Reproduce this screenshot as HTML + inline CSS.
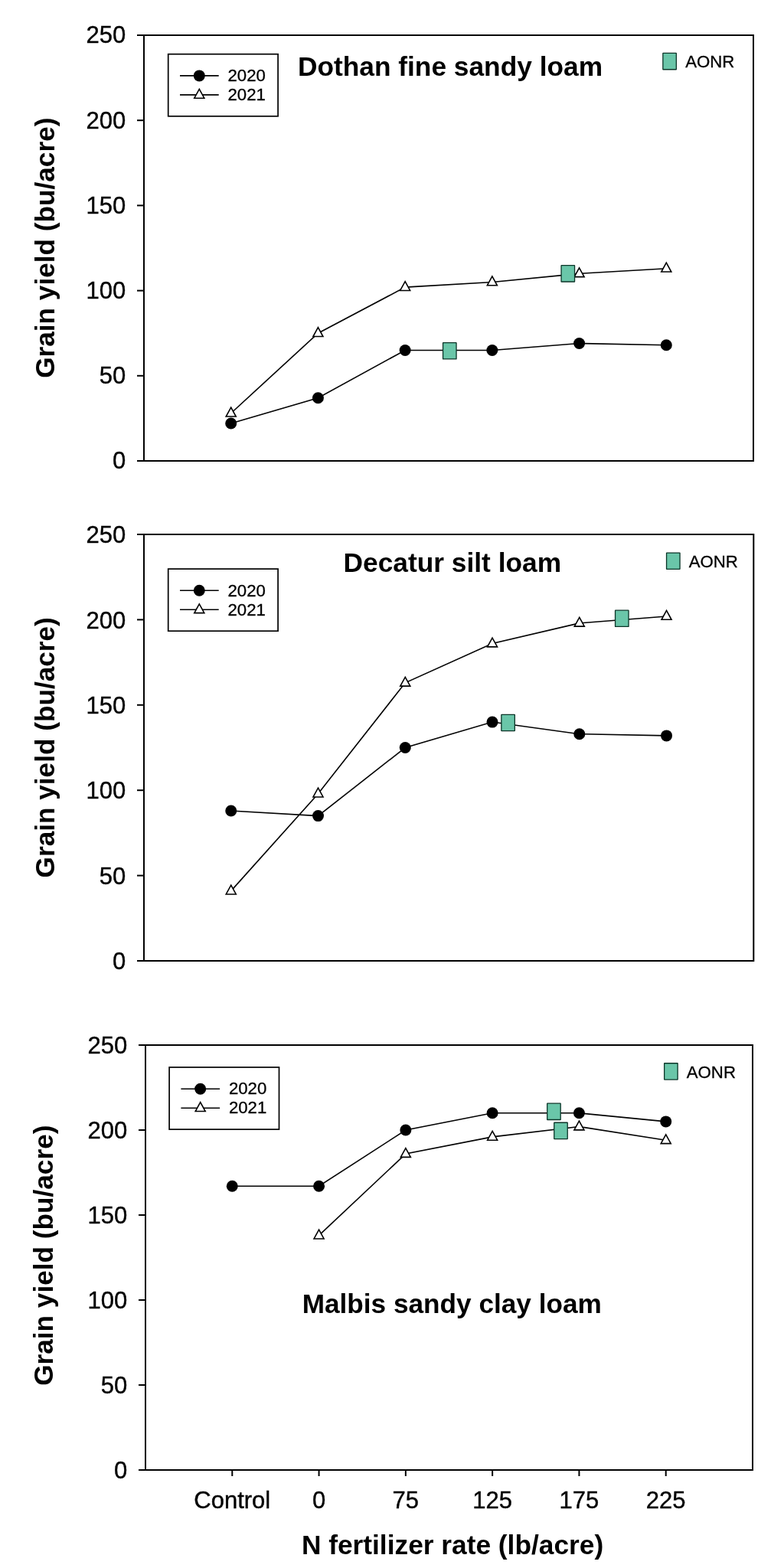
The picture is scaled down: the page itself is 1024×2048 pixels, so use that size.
<!DOCTYPE html>
<html lang="en"><head><meta charset="utf-8"><title>Grain yield vs N fertilizer rate</title>
<style>html,body{margin:0;padding:0;background:#fff}body{width:1024px;height:2048px;overflow:hidden}svg{display:block}text{font-family:"Liberation Sans", sans-serif;fill:#000}.tk{font-size:31px;stroke:#000;stroke-width:.4px}.lg{font-size:22.2px;stroke:#000;stroke-width:.3px}.ti{font-size:35.3px;font-weight:bold}</style>
</head><body>
<svg width="1024" height="2048" viewBox="0 0 1024 2048">
<rect width="1024" height="2048" fill="#fff"/>
<g>
<rect x="188.00" y="46.00" width="796.00" height="556.00" fill="none" stroke="#000" stroke-width="2"/>
<line x1="179.00" y1="46.00" x2="188.00" y2="46.00" stroke="#000" stroke-width="2"/>
<text class="tk" x="164.20" y="56.40" text-anchor="end">250</text>
<line x1="179.00" y1="157.20" x2="188.00" y2="157.20" stroke="#000" stroke-width="2"/>
<text class="tk" x="164.20" y="167.60" text-anchor="end">200</text>
<line x1="179.00" y1="268.40" x2="188.00" y2="268.40" stroke="#000" stroke-width="2"/>
<text class="tk" x="164.20" y="278.80" text-anchor="end">150</text>
<line x1="179.00" y1="379.60" x2="188.00" y2="379.60" stroke="#000" stroke-width="2"/>
<text class="tk" x="164.20" y="390.00" text-anchor="end">100</text>
<line x1="179.00" y1="490.80" x2="188.00" y2="490.80" stroke="#000" stroke-width="2"/>
<text class="tk" x="164.20" y="501.20" text-anchor="end">50</text>
<line x1="179.00" y1="602.00" x2="188.00" y2="602.00" stroke="#000" stroke-width="2"/>
<text class="tk" x="164.20" y="612.40" text-anchor="end">0</text>
<text class="ti" style="font-size:35.2px" transform="translate(70.80 323.70) rotate(-90)" text-anchor="middle">Grain yield (bu/acre)</text>
<polyline points="301.71,553.07 415.43,519.71 529.14,457.44 642.86,457.44 756.57,448.54 870.29,450.77" fill="none" stroke="#000" stroke-width="1.6"/>
<polyline points="301.71,539.73 415.43,435.20 529.14,375.15 642.86,368.48 756.57,357.36 870.29,350.69" fill="none" stroke="#000" stroke-width="1.6"/>
<circle cx="301.71" cy="553.07" r="7.50" fill="#000"/>
<circle cx="415.43" cy="519.71" r="7.50" fill="#000"/>
<circle cx="529.14" cy="457.44" r="7.50" fill="#000"/>
<circle cx="642.86" cy="457.44" r="7.50" fill="#000"/>
<circle cx="756.57" cy="448.54" r="7.50" fill="#000"/>
<circle cx="870.29" cy="450.77" r="7.50" fill="#000"/>
<path d="M301.71 532.23L308.21 544.03L295.21 544.03Z" fill="#fff" stroke="#000" stroke-width="1.6" stroke-linejoin="miter"/>
<path d="M415.43 427.70L421.93 439.50L408.93 439.50Z" fill="#fff" stroke="#000" stroke-width="1.6" stroke-linejoin="miter"/>
<path d="M529.14 367.65L535.64 379.45L522.64 379.45Z" fill="#fff" stroke="#000" stroke-width="1.6" stroke-linejoin="miter"/>
<path d="M642.86 360.98L649.36 372.78L636.36 372.78Z" fill="#fff" stroke="#000" stroke-width="1.6" stroke-linejoin="miter"/>
<path d="M756.57 349.86L763.07 361.66L750.07 361.66Z" fill="#fff" stroke="#000" stroke-width="1.6" stroke-linejoin="miter"/>
<path d="M870.29 343.19L876.79 354.99L863.79 354.99Z" fill="#fff" stroke="#000" stroke-width="1.6" stroke-linejoin="miter"/>
<rect x="578.55" y="447.65" width="17.50" height="21.30" fill="#6ac6a9" stroke="#0c3528" stroke-width="1.3" rx="0.3"/>
<rect x="733.05" y="346.70" width="17.50" height="21.30" fill="#6ac6a9" stroke="#0c3528" stroke-width="1.3" rx="0.3"/>
<rect x="219.70" y="70.70" width="143.4" height="81.1" fill="#fff" stroke="#000" stroke-width="1.7"/>
<line x1="235.00" y1="98.90" x2="285.70" y2="98.90" stroke="#000" stroke-width="1.6"/>
<line x1="235.00" y1="123.90" x2="285.70" y2="123.90" stroke="#000" stroke-width="1.6"/>
<circle cx="260.30" cy="98.90" r="7.50" fill="#000"/>
<path d="M260.30 116.40L266.80 128.20L253.80 128.20Z" fill="#fff" stroke="#000" stroke-width="1.6" stroke-linejoin="miter"/>
<text class="lg" x="297.50" y="106.10">2020</text>
<text class="lg" x="297.50" y="131.10">2021</text>
<rect x="865.85" y="69.45" width="17.50" height="21.30" fill="#6ac6a9" stroke="#0c3528" stroke-width="1.3" rx="0.3"/>
<text class="lg" x="895.20" y="88.20">AONR</text>
<text class="ti" x="388.90" y="98.60">Dothan fine sandy loam</text>
</g>
<g>
<rect x="188.00" y="698.00" width="796.30" height="557.00" fill="none" stroke="#000" stroke-width="2"/>
<line x1="179.00" y1="698.00" x2="188.00" y2="698.00" stroke="#000" stroke-width="2"/>
<text class="tk" x="164.20" y="709.20" text-anchor="end">250</text>
<line x1="179.00" y1="809.40" x2="188.00" y2="809.40" stroke="#000" stroke-width="2"/>
<text class="tk" x="164.20" y="820.60" text-anchor="end">200</text>
<line x1="179.00" y1="920.80" x2="188.00" y2="920.80" stroke="#000" stroke-width="2"/>
<text class="tk" x="164.20" y="932.00" text-anchor="end">150</text>
<line x1="179.00" y1="1032.20" x2="188.00" y2="1032.20" stroke="#000" stroke-width="2"/>
<text class="tk" x="164.20" y="1043.40" text-anchor="end">100</text>
<line x1="179.00" y1="1143.60" x2="188.00" y2="1143.60" stroke="#000" stroke-width="2"/>
<text class="tk" x="164.20" y="1154.80" text-anchor="end">50</text>
<line x1="179.00" y1="1255.00" x2="188.00" y2="1255.00" stroke="#000" stroke-width="2"/>
<text class="tk" x="164.20" y="1266.20" text-anchor="end">0</text>
<text class="ti" style="font-size:35.2px" transform="translate(70.80 976.30) rotate(-90)" text-anchor="middle">Grain yield (bu/acre)</text>
<polyline points="301.76,1058.94 415.51,1065.62 529.27,976.50 643.03,943.08 756.79,958.68 870.54,960.90" fill="none" stroke="#000" stroke-width="1.6"/>
<polyline points="301.76,1163.65 415.51,1036.66 529.27,891.84 643.03,840.59 756.79,813.86 870.54,804.94" fill="none" stroke="#000" stroke-width="1.6"/>
<circle cx="301.76" cy="1058.94" r="7.50" fill="#000"/>
<circle cx="415.51" cy="1065.62" r="7.50" fill="#000"/>
<circle cx="529.27" cy="976.50" r="7.50" fill="#000"/>
<circle cx="643.03" cy="943.08" r="7.50" fill="#000"/>
<circle cx="756.79" cy="958.68" r="7.50" fill="#000"/>
<circle cx="870.54" cy="960.90" r="7.50" fill="#000"/>
<path d="M301.76 1156.15L308.26 1167.95L295.26 1167.95Z" fill="#fff" stroke="#000" stroke-width="1.6" stroke-linejoin="miter"/>
<path d="M415.51 1029.16L422.01 1040.96L409.01 1040.96Z" fill="#fff" stroke="#000" stroke-width="1.6" stroke-linejoin="miter"/>
<path d="M529.27 884.34L535.77 896.14L522.77 896.14Z" fill="#fff" stroke="#000" stroke-width="1.6" stroke-linejoin="miter"/>
<path d="M643.03 833.09L649.53 844.89L636.53 844.89Z" fill="#fff" stroke="#000" stroke-width="1.6" stroke-linejoin="miter"/>
<path d="M756.79 806.36L763.29 818.16L750.29 818.16Z" fill="#fff" stroke="#000" stroke-width="1.6" stroke-linejoin="miter"/>
<path d="M870.54 797.44L877.04 809.24L864.04 809.24Z" fill="#fff" stroke="#000" stroke-width="1.6" stroke-linejoin="miter"/>
<rect x="654.85" y="933.35" width="17.50" height="21.30" fill="#6ac6a9" stroke="#0c3528" stroke-width="1.3" rx="0.3"/>
<rect x="803.55" y="797.15" width="17.50" height="21.30" fill="#6ac6a9" stroke="#0c3528" stroke-width="1.3" rx="0.3"/>
<rect x="219.70" y="743.10" width="143.4" height="81.1" fill="#fff" stroke="#000" stroke-width="1.7"/>
<line x1="235.00" y1="771.30" x2="285.70" y2="771.30" stroke="#000" stroke-width="1.6"/>
<line x1="235.00" y1="796.30" x2="285.70" y2="796.30" stroke="#000" stroke-width="1.6"/>
<circle cx="260.30" cy="771.30" r="7.50" fill="#000"/>
<path d="M260.30 788.80L266.80 800.60L253.80 800.60Z" fill="#fff" stroke="#000" stroke-width="1.6" stroke-linejoin="miter"/>
<text class="lg" x="297.50" y="778.50">2020</text>
<text class="lg" x="297.50" y="803.50">2021</text>
<rect x="870.55" y="722.05" width="17.50" height="21.30" fill="#6ac6a9" stroke="#0c3528" stroke-width="1.3" rx="0.3"/>
<text class="lg" x="899.70" y="740.50">AONR</text>
<text class="ti" x="448.60" y="746.90">Decatur silt loam</text>
</g>
<g>
<rect x="190.00" y="1365.00" width="793.00" height="555.00" fill="none" stroke="#000" stroke-width="2"/>
<line x1="181.00" y1="1365.00" x2="190.00" y2="1365.00" stroke="#000" stroke-width="2"/>
<text class="tk" x="166.20" y="1375.90" text-anchor="end">250</text>
<line x1="181.00" y1="1476.00" x2="190.00" y2="1476.00" stroke="#000" stroke-width="2"/>
<text class="tk" x="166.20" y="1486.90" text-anchor="end">200</text>
<line x1="181.00" y1="1587.00" x2="190.00" y2="1587.00" stroke="#000" stroke-width="2"/>
<text class="tk" x="166.20" y="1597.90" text-anchor="end">150</text>
<line x1="181.00" y1="1698.00" x2="190.00" y2="1698.00" stroke="#000" stroke-width="2"/>
<text class="tk" x="166.20" y="1708.90" text-anchor="end">100</text>
<line x1="181.00" y1="1809.00" x2="190.00" y2="1809.00" stroke="#000" stroke-width="2"/>
<text class="tk" x="166.20" y="1819.90" text-anchor="end">50</text>
<line x1="181.00" y1="1920.00" x2="190.00" y2="1920.00" stroke="#000" stroke-width="2"/>
<text class="tk" x="166.20" y="1930.90" text-anchor="end">0</text>
<line x1="303.29" y1="1920.00" x2="303.29" y2="1928.00" stroke="#000" stroke-width="2"/>
<line x1="416.57" y1="1920.00" x2="416.57" y2="1928.00" stroke="#000" stroke-width="2"/>
<line x1="529.86" y1="1920.00" x2="529.86" y2="1928.00" stroke="#000" stroke-width="2"/>
<line x1="643.14" y1="1920.00" x2="643.14" y2="1928.00" stroke="#000" stroke-width="2"/>
<line x1="756.43" y1="1920.00" x2="756.43" y2="1928.00" stroke="#000" stroke-width="2"/>
<line x1="869.71" y1="1920.00" x2="869.71" y2="1928.00" stroke="#000" stroke-width="2"/>
<text class="tk" x="303.29" y="1970.20" text-anchor="middle">Control</text>
<text class="tk" x="416.57" y="1970.20" text-anchor="middle">0</text>
<text class="tk" x="529.86" y="1970.20" text-anchor="middle">75</text>
<text class="tk" x="643.14" y="1970.20" text-anchor="middle">125</text>
<text class="tk" x="756.43" y="1970.20" text-anchor="middle">175</text>
<text class="tk" x="869.71" y="1970.20" text-anchor="middle">225</text>
<text class="ti" style="font-size:35.2px" transform="translate(68.80 1639.70) rotate(-90)" text-anchor="middle">Grain yield (bu/acre)</text>
<polyline points="303.29,1549.26 416.57,1549.26 529.86,1476.00 643.14,1453.80 756.43,1453.80 869.71,1464.90" fill="none" stroke="#000" stroke-width="1.6"/>
<polyline points="416.57,1613.64 529.86,1507.08 643.14,1484.88 756.43,1471.56 869.71,1489.32" fill="none" stroke="#000" stroke-width="1.6"/>
<circle cx="303.29" cy="1549.26" r="7.50" fill="#000"/>
<circle cx="416.57" cy="1549.26" r="7.50" fill="#000"/>
<circle cx="529.86" cy="1476.00" r="7.50" fill="#000"/>
<circle cx="643.14" cy="1453.80" r="7.50" fill="#000"/>
<circle cx="756.43" cy="1453.80" r="7.50" fill="#000"/>
<circle cx="869.71" cy="1464.90" r="7.50" fill="#000"/>
<path d="M416.57 1606.14L423.07 1617.94L410.07 1617.94Z" fill="#fff" stroke="#000" stroke-width="1.6" stroke-linejoin="miter"/>
<path d="M529.86 1499.58L536.36 1511.38L523.36 1511.38Z" fill="#fff" stroke="#000" stroke-width="1.6" stroke-linejoin="miter"/>
<path d="M643.14 1477.38L649.64 1489.18L636.64 1489.18Z" fill="#fff" stroke="#000" stroke-width="1.6" stroke-linejoin="miter"/>
<path d="M756.43 1464.06L762.93 1475.86L749.93 1475.86Z" fill="#fff" stroke="#000" stroke-width="1.6" stroke-linejoin="miter"/>
<path d="M869.71 1481.82L876.21 1493.62L863.21 1493.62Z" fill="#fff" stroke="#000" stroke-width="1.6" stroke-linejoin="miter"/>
<rect x="714.70" y="1441.20" width="17.50" height="21.30" fill="#6ac6a9" stroke="#0c3528" stroke-width="1.3" rx="0.3"/>
<rect x="723.75" y="1466.25" width="17.50" height="21.30" fill="#6ac6a9" stroke="#0c3528" stroke-width="1.3" rx="0.3"/>
<rect x="221.10" y="1394.00" width="143.4" height="81.1" fill="#fff" stroke="#000" stroke-width="1.7"/>
<line x1="236.40" y1="1422.20" x2="287.10" y2="1422.20" stroke="#000" stroke-width="1.6"/>
<line x1="236.40" y1="1447.20" x2="287.10" y2="1447.20" stroke="#000" stroke-width="1.6"/>
<circle cx="261.70" cy="1422.20" r="7.50" fill="#000"/>
<path d="M261.70 1439.70L268.20 1451.50L255.20 1451.50Z" fill="#fff" stroke="#000" stroke-width="1.6" stroke-linejoin="miter"/>
<text class="lg" x="298.90" y="1429.40">2020</text>
<text class="lg" x="298.90" y="1454.40">2021</text>
<rect x="867.65" y="1388.75" width="17.50" height="21.30" fill="#6ac6a9" stroke="#0c3528" stroke-width="1.3" rx="0.3"/>
<text class="lg" x="896.80" y="1407.50">AONR</text>
<text class="ti" style="font-size:35.2px" x="394.70" y="1714.70">Malbis sandy clay loam</text>
</g>
<text class="ti" x="393.9" y="2030.2">N fertilizer rate (lb/acre)</text>
</svg></body></html>
